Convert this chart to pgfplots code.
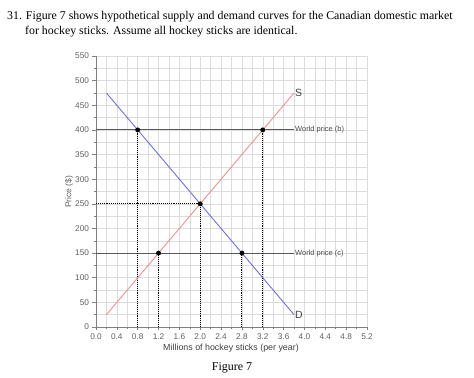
\documentclass[border=0pt]{standalone}
\usepackage{pgfplots}
\pgfplotsset{compat=1.18}
\usepackage{fontspec}
\setmainfont{Liberation Serif}
\newfontfamily\arial{Liberation Sans}
\definecolor{demandc}{HTML}{6F6FE0}
\definecolor{supplyc}{HTML}{F09090}
\definecolor{gridc}{HTML}{DCDCDC}
\definecolor{labc}{HTML}{606060}
\begin{document}
\begin{tikzpicture}
\useasboundingbox (-96bp,-51bp) rectangle (378bp,327bp);
\begin{axis}[
  scale only axis, width=271bp, height=271bp,
  xmin=0, xmax=5.2, ymin=0, ymax=550,
  axis x line*=bottom, axis y line*=left,
  axis line style={-, color=gray, line width=0.6pt},
  xtick={0,0.4,...,5.21}, ytick={0,50,...,550},
  minor x tick num=1, minor y tick num=1,
  grid=both, major grid style={gridc, line width=0.5pt}, minor grid style={gridc, line width=0.5pt},
  tick align=outside, major tick length=3.5bp, minor tick length=2bp,
  tick style={color=gray, line width=0.5pt},
  /pgf/number format/assume math mode=true,
  tick label style={font=\arial\fontsize{8.3}{9}\selectfont, text=labc},
  xticklabel style={/pgf/number format/.cd, fixed, fixed zerofill, precision=1},
  yticklabel style={/pgf/number format/.cd, fixed, precision=0},
  xtick pos=bottom, ytick pos=left,
  clip=false,
]
% world price lines
\addplot[color=black!65, line width=0.9pt] coordinates {(0,400) (3.8,400)};
\addplot[color=black!65, line width=0.9pt] coordinates {(0,150) (3.8,150)};
% dotted guides
\addplot[black, densely dotted, line width=1.1pt] coordinates {(0.8,0) (0.8,400)};
\addplot[black, densely dotted, line width=1.1pt] coordinates {(3.2,0) (3.2,400)};
\addplot[black, densely dotted, line width=1.1pt] coordinates {(1.2,0) (1.2,150)};
\addplot[black, densely dotted, line width=1.1pt] coordinates {(2.8,0) (2.8,150)};
\addplot[black, densely dotted, line width=1.1pt] coordinates {(2.0,0) (2.0,250)};
\addplot[black, densely dotted, line width=1.1pt] coordinates {(0,250) (2.0,250)};
% demand and supply
\addplot[demandc, line width=0.9pt] coordinates {(0.2,475) (3.8,25)};
\addplot[supplyc, line width=0.9pt] coordinates {(0.2,25) (3.8,475)};
% points
\addplot[only marks, mark=*, mark size=2.2pt, black] coordinates {(0.8,400) (3.2,400) (2.0,250) (1.2,150) (2.8,150)};
\node[anchor=west, font=\arial\fontsize{10.5}{11}\selectfont, text=black!75, inner sep=1pt] at (axis cs:3.8,475) {S};
\node[anchor=west, font=\arial\fontsize{10.5}{11}\selectfont, text=black!75, inner sep=1pt] at (axis cs:3.8,25) {D};
\node[anchor=west, font=\arial\fontsize{7.5}{8}\selectfont, text=black!70, inner sep=1pt] at (axis cs:3.8,400) {World price (b)};
\node[anchor=west, font=\arial\fontsize{7.5}{8}\selectfont, text=black!70, inner sep=1pt] at (axis cs:3.8,150) {World price (c)};
\end{axis}
\node[anchor=base west, font=\fontsize{11.9}{14}\selectfont, inner sep=0pt] at (-89bp,307bp) {31. Figure 7 shows hypothetical supply and demand curves for the Canadian domestic market};
\node[anchor=base west, font=\fontsize{11.9}{14}\selectfont, inner sep=0pt] at (-71bp,292bp) {for hockey sticks. Assume all hockey sticks are identical.};
\node[anchor=base, font=\arial\fontsize{8.9}{10}\selectfont, text=black!75, inner sep=0pt] at (135bp,-23bp) {Millions of hockey sticks (per year)};
\node[anchor=base, font=\fontsize{12}{14}\selectfont, inner sep=0pt] at (136bp,-43bp) {Figure 7};
\node[rotate=90, font=\arial\fontsize{8.5}{9}\selectfont, text=labc, inner sep=0pt] at (-27bp,135bp) {Price (\$)};
\end{tikzpicture}
\end{document}
